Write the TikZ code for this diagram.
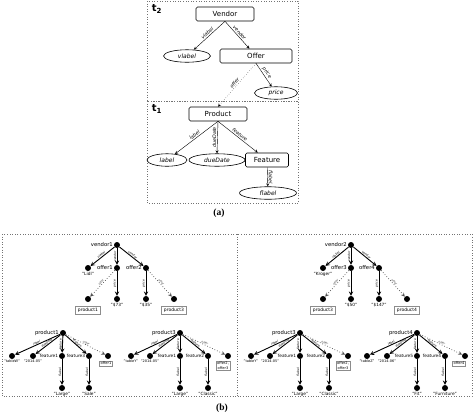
\documentclass[tikz,border=0pt]{standalone}
\usepackage{fontspec}
\setsansfont{DejaVu Sans}
\setmainfont{Liberation Serif}
\usetikzlibrary{shapes.geometric,positioning}

\begin{document}
\begin{tikzpicture}[x=1pt, y=-1pt, >=stealth,
  every node/.style={font=\sffamily},
  tbox/.style={draw=black!55, dotted, line width=0.6pt},
  tname/.style={font=\sffamily\bfseries\fontsize{10}{11}\selectfont, inner sep=0pt},
  subcap/.style={font=\rmfamily\bfseries\fontsize{9.5}{10}\selectfont},
  cls/.style={rectangle, rounded corners=1.5pt, draw, line width=0.6pt, minimum width=58pt, minimum height=14pt, inner sep=0pt, font=\sffamily\fontsize{7}{8}\selectfont},
  attr/.style={ellipse, draw, line width=0.6pt, minimum height=12.5pt, inner sep=0pt, font=\sffamily\itshape\fontsize{6}{7}\selectfont},
  prop/.style={midway, sloped, above, inner sep=1.2pt, font=\sffamily\itshape\fontsize{4.8}{5.5}\selectfont},
  lprop/.style={midway, rotate=90, above, inner sep=1.2pt, font=\sffamily\itshape\fontsize{4.8}{5.5}\selectfont},
  rprop/.style={midway, rotate=-90, above, inner sep=1.2pt, font=\sffamily\itshape\fontsize{4.8}{5.5}\selectfont},
  vx/.style={circle, fill=black, minimum size=6pt, inner sep=0pt},
  nlbl/.style={font=\sffamily\fontsize{5.3}{6}\selectfont, inner sep=0.8pt},
  flbl/.style={font=\sffamily\fontsize{4.3}{5}\selectfont, inner sep=0.5pt},
  lit/.style={font=\sffamily\fontsize{4.3}{5}\selectfont, inner sep=0.8pt},
  litsm/.style={font=\sffamily\fontsize{3.5}{4}\selectfont, inner sep=0.8pt},
  refbox/.style={rectangle, draw=black!45, line width=0.4pt, inner xsep=2.5pt, inner ysep=1.5pt, align=center, font=\sffamily\fontsize{4.5}{5}\selectfont},
  offbox/.style={rectangle, draw=black!45, line width=0.4pt, inner sep=1.3pt, align=center, font=\sffamily\fontsize{3.6}{4.3}\selectfont},
  iedge/.style={->, line width=0.9pt},
  redge/.style={->, dotted, line width=0.7pt, black!70},
  eprop/.style={midway, sloped, above, inner sep=0.4pt, font=\sffamily\itshape\fontsize{3}{3.5}\selectfont},
  evprop/.style={midway, rotate=90, above, inner sep=0.4pt, font=\sffamily\itshape\fontsize{3}{3.5}\selectfont}
  ]
\useasboundingbox (0,0) rectangle (474,416);

% (a) schema
\draw[tbox] (147,1) rectangle (298,101);
\draw[tbox] (147,101) rectangle (298,203);
\node[tname] (t2) at (157,9) {t\textsubscript{2}};
\node[tname] (t1) at (157,109) {t\textsubscript{1}};

\node[cls] (vendor) at (225,14) {Vendor};
\node[attr, minimum width=47pt] (vlabel) at (187,56) {vlabel};
\node[cls, minimum width=72pt] (offer) at (256,56) {Offer};
\node[attr, minimum width=43pt] (price) at (276,93) {price};
\node[cls] (product) at (218,114) {Product};
\node[attr, minimum width=40pt] (label) at (167,160) {label};
\node[attr, minimum width=56pt] (duedate) at (217,160) {dueDate};
\node[cls, minimum width=43pt] (feature) at (267,160) {Feature};
\node[attr, minimum width=57pt] (flabel) at (268,193) {flabel};

\draw[->] (vendor.south) -- node[prop] {vlabel} (vlabel);
\draw[->] (vendor.south) -- node[prop] {vendor} (offer);
\draw[->] (offer.south) -- node[prop] {price} (price);
\draw[->, dotted] (offer.south) -- node[prop] {offer} (product.north);
\draw[->] (product.south) -- node[prop] {label} (label);
\draw[->] (product.south) -- node[lprop] {dueDate} (duedate.north);
\draw[->] (product.south) -- node[prop] {feature} (feature);
\draw[->] (feature) -- node[rprop] {flabel} (flabel);

\node[subcap] (capa) at (219,213) {(a)};

% (b) instances
\draw[tbox] (2,234) rectangle (472,396);
\draw[tbox] (237,234) -- (237,396);

% vendor1
\node[vx, label={[nlbl]left:vendor1}] (v1) at (117,245) {};
\node[vx, label={[lit]below:{"Lidl"}}] (lidl) at (88,268) {};
\node[vx, label={[nlbl]left:offer1}] (of1) at (117,268) {};
\node[vx, label={[nlbl]left:offer2}] (of2) at (146,268) {};
\node[vx] (p1r) at (88,299) {};
\node[vx, label={[lit]below:{"\$73"}}] (pr73) at (117,299) {};
\node[vx, label={[lit]below:{"\$35"}}] (pr35) at (146,299) {};
\node[vx] (p3r) at (174,299) {};
\node[refbox, below=4pt of p1r] (p1box) {product1};
\node[refbox, below=4pt of p3r] (p3box) {product3};

\draw[iedge] (v1) -- node[eprop] {vlabel} (lidl);
\draw[iedge] (v1) -- node[evprop] {vendor} (of1);
\draw[iedge] (v1) -- node[eprop] {vendor} (of2);
\draw[redge] (of1) -- node[eprop] {offer} (p1r);
\draw[iedge] (of1) -- node[evprop] {price} (pr73);
\draw[iedge] (of2) -- node[evprop] {price} (pr35);
\draw[redge] (of2) -- node[eprop] {offer} (p3r);

% product1
\node[vx, label={[nlbl]left:product1}] (p1) at (63,333) {};
\node[vx, label={[litsm]below:{"tableW"}}] (tw) at (12,356) {};
\node[vx, label={[litsm]below:{"2014-05"}}] (d1) at (33,356) {};
\node[vx, label={[flbl]left:feature1}] (f1) at (62,356) {};
\node[vx, label={[flbl]left:feature3}] (f3) at (89,356) {};
\node[vx] (o1) at (108,356) {};
\node[offbox, below=1.5pt of o1, xshift=-2pt] (o1box) {offer1};
\node[vx, label={[lit]below:{"Large"}}] (lg1) at (62,388) {};
\node[vx, label={[lit]below:{"Sale"}}] (sl1) at (89,388) {};

\draw[iedge] (p1) -- node[eprop] {label} (tw);
\draw[iedge] (p1) -- node[eprop] {dueDate} (d1);
\draw[iedge] (p1) -- node[evprop] {feature} (f1);
\draw[iedge] (p1) -- node[eprop] {feature} (f3);
\draw[redge] (p1) -- node[eprop] {offer} (o1);
\draw[iedge] (f1) -- node[evprop] {flabel} (lg1);
\draw[iedge] (f3) -- node[evprop] {flabel} (sl1);

% product3 (left)
\node[vx, label={[nlbl]left:product3}] (p3a) at (180,333) {};
\node[vx, label={[litsm]below:{"tableY"}}] (ty1) at (131,356) {};
\node[vx, label={[litsm]below:{"2014-05"}}] (d2) at (150,356) {};
\node[vx, label={[flbl]left:feature1}] (f1a) at (180,356) {};
\node[vx, label={[flbl]left:feature2}] (f2a) at (208,356) {};
\node[vx] (o23a) at (228,356) {};
\node[offbox, below=1.5pt of o23a, xshift=-5pt] (o23abox) {offer2,\\offer3};
\node[vx, label={[lit]below:{"Large"}}] (lg2) at (180,388) {};
\node[vx, label={[lit]below:{"Classic"}}] (cl1) at (208,388) {};

\draw[iedge] (p3a) -- node[eprop] {label} (ty1);
\draw[iedge] (p3a) -- node[eprop] {dueDate} (d2);
\draw[iedge] (p3a) -- node[evprop] {feature} (f1a);
\draw[iedge] (p3a) -- node[eprop] {feature} (f2a);
\draw[redge] (p3a) -- node[eprop] {offer} (o23a);
\draw[iedge] (f1a) -- node[evprop] {flabel} (lg2);
\draw[iedge] (f2a) -- node[evprop] {flabel} (cl1);

% vendor2
\node[vx, label={[nlbl]left:vendor2}] (v2) at (351,245) {};
\node[vx, label={[lit]below:{"Kroger"}}] (kr) at (323,268) {};
\node[vx, label={[nlbl]left:offer3}] (of3) at (351,268) {};
\node[vx, label={[nlbl]left:offer4}] (of4) at (379,268) {};
\node[vx] (p3r2) at (323,299) {};
\node[vx, label={[lit]below:{"\$50"}}] (pr50) at (351,299) {};
\node[vx, label={[lit]below:{"\$147"}}] (pr147) at (379,299) {};
\node[vx] (p4r) at (407,299) {};
\node[refbox, below=4pt of p3r2] (p3box2) {product3};
\node[refbox, below=4pt of p4r] (p4box) {product4};

\draw[iedge] (v2) -- node[eprop] {vlabel} (kr);
\draw[iedge] (v2) -- node[evprop] {vendor} (of3);
\draw[iedge] (v2) -- node[eprop] {vendor} (of4);
\draw[redge] (of3) -- node[eprop] {offer} (p3r2);
\draw[iedge] (of3) -- node[evprop] {price} (pr50);
\draw[iedge] (of4) -- node[evprop] {price} (pr147);
\draw[redge] (of4) -- node[eprop] {offer} (p4r);

% product3 (right)
\node[vx, label={[nlbl]left:product3}] (p3b) at (300,333) {};
\node[vx, label={[litsm]below:{"tableY"}}] (ty2) at (251,356) {};
\node[vx, label={[litsm]below:{"2014-05"}}] (d3) at (270,356) {};
\node[vx, label={[flbl]left:feature1}] (f1b) at (300,356) {};
\node[vx, label={[flbl]left:feature2}] (f2b) at (329,356) {};
\node[vx] (o23b) at (348,356) {};
\node[offbox, below=1.5pt of o23b, xshift=-5pt] (o23bbox) {offer2,\\offer3};
\node[vx, label={[lit]below:{"Large"}}] (lg3) at (300,388) {};
\node[vx, label={[lit]below:{"Classic"}}] (cl2) at (329,388) {};

\draw[iedge] (p3b) -- node[eprop] {label} (ty2);
\draw[iedge] (p3b) -- node[eprop] {dueDate} (d3);
\draw[iedge] (p3b) -- node[evprop] {feature} (f1b);
\draw[iedge] (p3b) -- node[eprop] {feature} (f2b);
\draw[redge] (p3b) -- node[eprop] {offer} (o23b);
\draw[iedge] (f1b) -- node[evprop] {flabel} (lg3);
\draw[iedge] (f2b) -- node[evprop] {flabel} (cl2);

% product4
\node[vx, label={[nlbl]left:product4}] (p4) at (417,333) {};
\node[vx, label={[litsm]below:{"tableZ"}}] (tz) at (367,356) {};
\node[vx, label={[litsm]below:{"2014-06"}}] (d4) at (387,356) {};
\node[vx, label={[flbl]left:feature5}] (f5) at (417,356) {};
\node[vx, label={[flbl]left:feature4}] (f4) at (445,356) {};
\node[vx] (o4) at (465,356) {};
\node[offbox, below=1.5pt of o4, xshift=-6pt] (o4box) {offer4};
\node[vx, label={[lit]below:{"Fit"}}] (fit) at (417,388) {};
\node[vx, label={[lit]below:{"Furniture"}}] (fu) at (445,388) {};

\draw[iedge] (p4) -- node[eprop] {label} (tz);
\draw[iedge] (p4) -- node[eprop] {dueDate} (d4);
\draw[iedge] (p4) -- node[evprop] {feature} (f5);
\draw[iedge] (p4) -- node[eprop] {feature} (f4);
\draw[redge] (p4) -- node[eprop] {offer} (o4);
\draw[iedge] (f5) -- node[evprop] {flabel} (fit);
\draw[iedge] (f4) -- node[evprop] {flabel} (fu);

\node[subcap] (capb) at (222,408) {(b)};

\end{tikzpicture}
\end{document}
